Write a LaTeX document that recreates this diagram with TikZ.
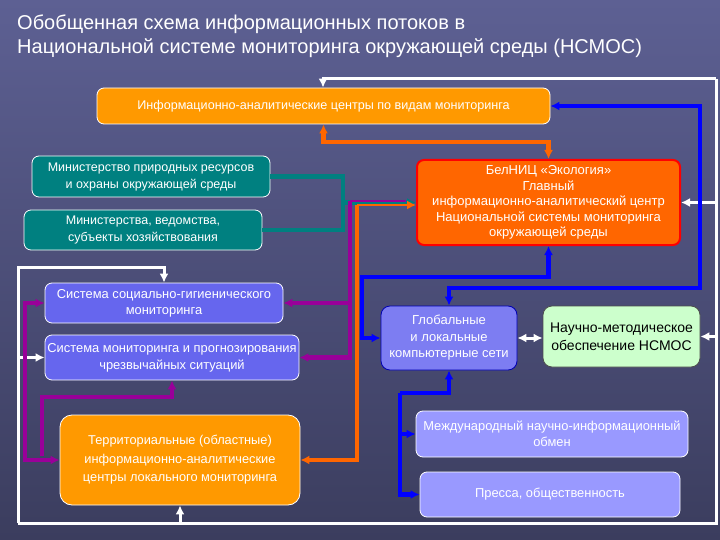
\documentclass[tikz,border=0pt]{standalone}
\usepackage{fontspec}
\setmainfont{Liberation Sans}
\usetikzlibrary{arrows.meta}
\definecolor{bgtop}{HTML}{5D6093}
\definecolor{bgbot}{HTML}{3B3D5E}
\definecolor{amber}{HTML}{FF9900}
\definecolor{flame}{HTML}{FF6600}
\definecolor{sea}{HTML}{008080}
\definecolor{iris}{HTML}{6666EE}
\definecolor{lilac}{HTML}{9999FF}
\definecolor{netblue}{HTML}{7D7DF2}
\definecolor{mint}{HTML}{CCFFCC}
\definecolor{plum}{HTML}{990099}
\definecolor{royal}{HTML}{0000FF}

\begin{document}
\begin{tikzpicture}[
 x=1pt,y=-1pt,
 >={Latex[length=9pt,width=9pt]},
 box/.style={rectangle,rounded corners=7pt,draw=white,line width=0.8pt,text=white,align=center,inner sep=2pt,font=\fontsize{12.9}{16}\selectfont},
 seabox/.style={box,fill=sea,font=\fontsize{12.5}{17}\selectfont},
 amberbox/.style={box,fill=amber},
 irisbox/.style={box,fill=iris},
 lilacbox/.style={box,fill=lilac},
 wline/.style={draw=white,line width=3pt},
 oline/.style={draw=flame,line width=4.2pt},
 tline/.style={draw=sea,line width=4.2pt},
 pline/.style={draw=plum,line width=4.2pt},
 bline/.style={draw=royal,line width=4.2pt}
]
\useasboundingbox (0,0) rectangle (720,540);
\fill[top color=bgtop,bottom color=bgbot] (0,0) rectangle (720,540);

\node[anchor=north west,align=left,text=white,inner sep=0pt,font=\fontsize{20}{24}\selectfont] (title) at (17,15)
 {Обобщенная схема информационных потоков в\\Национальной системе мониторинга окружающей среды (НСМОС)};

% boxes
\node[amberbox,minimum width=453,minimum height=36,font=\fontsize{12.6}{14}\selectfont] (iac) at (323.5,106) {Информационно-аналитические центры по видам мониторинга};
\node[seabox,minimum width=238,minimum height=41] (minnat) at (151,176.5) {Министерство природных ресурсов\\и охраны окружающей среды};
\node[seabox,minimum width=238,minimum height=40] (minved) at (143,230) {Министерства, ведомства,\\субъекты хозяйствования};
\node[box,fill=flame,draw=red,line width=2pt,minimum width=263,minimum height=85,font=\fontsize{13}{15.5}\selectfont] (belnic) at (548.5,202.5) {БелНИЦ «Экология»\\Главный\\информационно-аналитический центр\\Национальной системы мониторинга\\окружающей среды};
\node[irisbox,minimum width=238,minimum height=40] (socgig) at (164,303) {Система социально-гигиенического\\мониторинга};
\node[irisbox,minimum width=254,minimum height=45,font=\fontsize{12.9}{17}\selectfont] (chs) at (172,357.5) {Система мониторинга и прогнозирования\\чрезвычайных ситуаций};
\node[amberbox,minimum width=240,minimum height=90,rounded corners=12pt,font=\fontsize{12.8}{18.5}\selectfont] (terr) at (180,460) {Территориальные (областные)\\информационно-аналитические\\центры локального мониторинга};
\node[box,fill=netblue,draw=royal!70!black,minimum width=136,minimum height=64,rounded corners=9pt,font=\fontsize{13}{16.5}\selectfont] (nets) at (449,338) {Глобальные\\и локальные\\компьютерные сети};
\node[box,fill=mint,draw=black!70,text=black,minimum width=157,minimum height=61,rounded corners=9pt,font=\fontsize{14}{18}\selectfont] (nauch) at (621.5,336.5) {Научно-методическое\\обеспечение НСМОС};
\node[lilacbox,minimum width=272,minimum height=46] (intl) at (552,434) {Международный научно-информационный\\обмен};
\node[lilacbox,minimum width=260,minimum height=45] (press) at (550,494.5) {Пресса, общественность};

% white frame
\coordinate (wa) at (323,79);
\coordinate (wb) at (716,79);
\coordinate (wc) at (716,523);
\coordinate (wd) at (18,523);
\coordinate (we) at (18,267);
\draw[wline,->] (wb) -- (wa) -- (iac.north -| wa);
\draw[wline] (wb) -- (wc) -- (wd);
\draw[wline,->] (wd) -- (we) -| (socgig.north);
\draw[wline,->] (belnic.east -| wc) -- (belnic.east);
\draw[wline,->] (nauch.east -| wc) -- (nauch.east);
\draw[wline,->] (chs.west -| wd) -- (chs.west);
\draw[wline,->] (terr.south |- wd) -- (terr.south);
\draw[wline,<->] (nets.east) -- (nets.east -| nauch.west);

% teal
\coordinate (tj) at (343,202.5);
\draw[tline] (minnat.east) -| (tj);
\draw[tline] (minved.east) -| (tj);
\draw[tline,->] (tj) -- (belnic.west);

% purple
\coordinate (pj) at (350,201);
\draw[pline,line width=1.6pt] (pj) -- (406,201);
\draw[pline,->] (pj) |- (socgig.east);
\draw[pline,->] (pj) |- (chs.east);
\coordinate (pl) at (25,460);
\draw[pline,<->] (socgig.west) -| (pl) -- (terr.west);
\draw[pline,<-] (chs.south) |- (42,397) -- (42,456);

% orange
\coordinate (oj) at (357,205);
\draw[oline,line width=1.6pt,->] (oj) -- (oj -| belnic.west);
\draw[oline,->] (oj) |- (terr.east);
\draw[oline,<->] (iac.south) -- (iac.south |- 0,142) -| (belnic.north);

% blue
\coordinate (bt) at (700,288);
\coordinate (bl) at (362,277);
\coordinate (bm) at (400,393);
\draw[bline,<->] (iac.east) -| (bt) -| (nets.north);
\draw[bline,<->] (belnic.south) |- (bl) |- (nets.west);
\draw[bline,->] (bm) -| (nets.south);
\draw[bline,->] (bm) |- (intl.west);
\draw[bline,->] (bm) |- (press.west);
\end{tikzpicture}
\end{document}
